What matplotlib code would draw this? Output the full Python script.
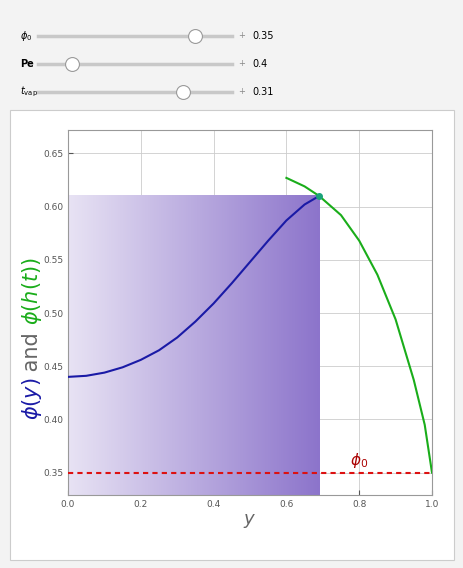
import numpy as np
import matplotlib
matplotlib.use("Agg")
import matplotlib.pyplot as plt
from matplotlib.colors import LinearSegmentedColormap
from matplotlib.patches import Rectangle

# slider settings
slider_labels = ["$\\phi_0$", "Pe", "$t_{\\mathrm{vap}}$"]
slider_values = [0.35, 0.4, 0.31]
slider_pos = [0.81, 0.175, 0.75]  # knob position along track (fraction)

phi0 = 0.35
y_top = 0.61
y_end = 0.69

# phi(y) profile
blue_x = [0.0, 0.05, 0.1, 0.15, 0.2, 0.25, 0.3, 0.35, 0.4, 0.45, 0.5, 0.55, 0.6, 0.65, 0.69]
blue_y = [0.440, 0.441, 0.444, 0.449, 0.456, 0.465, 0.477, 0.492, 0.509, 0.528,
          0.548, 0.568, 0.587, 0.602, 0.610]
# phi(h(t)) trajectory
green_x = [0.6, 0.65, 0.69, 0.75, 0.8, 0.85, 0.9, 0.95, 0.98, 1.0]
green_y = [0.627, 0.619, 0.610, 0.592, 0.568, 0.536, 0.494, 0.437, 0.395, 0.350]

fig = plt.figure(figsize=(4.64, 5.68), dpi=100)
fig.patch.set_facecolor("#f3f3f3")

# control panel
for i, (lab, val, pos) in enumerate(zip(slider_labels, slider_values, slider_pos)):
    yy = 1 - (36 + i * 28) / 568
    fig.text(20 / 464, yy, lab, fontsize=7, va="center", fontweight="bold")
    x0, x1 = 38 / 464, 232 / 464
    fig.add_artist(plt.Line2D([x0, x1], [yy, yy], color="#c8c8c8", lw=2.5))
    kx = x0 + pos * (x1 - x0)
    fig.add_artist(plt.Line2D([kx], [yy], marker="o", ms=10, mfc="white",
                              mec="#9a9a9a", mew=0.8))
    fig.text(238 / 464, yy, "+", fontsize=6, color="#888888", va="center")
    fig.text(252 / 464, yy, f"{val}", fontsize=7, va="center")

# plot panel box
fig.add_artist(Rectangle((10 / 464, 8 / 568), 444 / 464, 450 / 568,
                         transform=fig.transFigure, fc="white", ec="#cccccc",
                         lw=0.8, zorder=-5))

ax = fig.add_axes([68 / 464, 73 / 568, 364 / 464, 365 / 568])
ax.set_xlim(0, 1)
ax.set_ylim(0.329, 0.672)

cmap = LinearSegmentedColormap.from_list("pur", ["#e8e3f4", "#8c74cb"])
grad = np.linspace(0, 1, 256).reshape(1, -1)
ax.imshow(grad, cmap=cmap, aspect="auto", extent=[0, y_end, 0.329, y_top], zorder=1)
ax.set_xlim(0, 1)
ax.set_ylim(0.329, 0.672)

ax.plot(blue_x, blue_y, color="#1a1aa6", lw=1.5, zorder=3)
ax.plot(green_x, green_y, color="#1aad1a", lw=1.5, zorder=3)
ax.plot([y_end], [y_top], "o", color="#1aa37a", ms=4, zorder=4)
ax.axhline(phi0, color="#dd1111", ls=(0, (2.5, 2)), lw=1.5, zorder=3)
ax.text(0.8, 0.357, "$\\phi_0$", color="#aa0000", fontsize=11, ha="center")

ax.set_xticks(np.arange(0, 1.01, 0.2))
ax.set_yticks(np.arange(0.35, 0.66, 0.05))
ax.set_yticklabels([f"{v:.2f}" for v in np.arange(0.35, 0.66, 0.05)])
ax.grid(color="#cccccc", lw=0.6, zorder=0)
ax.set_axisbelow(True)
ax.tick_params(labelsize=6.5, colors="#555555", direction="in")
for s in ax.spines.values():
    s.set_color("#999999")
ax.set_xlabel("$y$", fontsize=13, color="#666666", labelpad=2)

# multi-colour y label
ylab_parts = [("$\\phi(y)$", "#1a1aa6"), (" and ", "#666666"), ("$\\phi(h(t))$", "#1aad1a")]
ypos = 0.26
for txt, col in ylab_parts:
    t = fig.text(32 / 464, ypos, txt, rotation=90, color=col, fontsize=15,
                 va="bottom", ha="center")
    fig.canvas.draw()
    bb = t.get_window_extent()
    ypos += bb.height / fig.bbox.height

fig.savefig("out.png", dpi=100, facecolor=fig.get_facecolor())
